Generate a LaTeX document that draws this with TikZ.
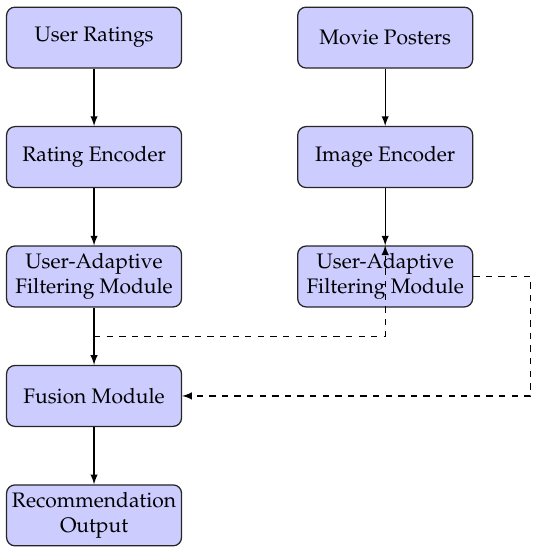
\documentclass[tikz,border=0pt]{standalone}
\usepackage[T1]{fontenc}
\usepackage{mathpazo}
\usetikzlibrary{arrows}

\begin{document}
\begin{tikzpicture}[auto,>=latex,semithick]

%
% Styles
%
\tikzstyle{module} = [rectangle,rounded corners,draw=black!85,fill=blue!20,minimum width=2.93cm,minimum height=1.02cm,align=center,inner sep=2pt]
\tikzstyle{link} = [->,draw=black]
\tikzstyle{feedback} = [->,draw=black,dashed]

\useasboundingbox (0,0) rectangle (8.98,-9.21);

\node[module] (ratings)  at (1.575,-0.63) {User Ratings};
\node[module] (posters)  at (6.45,-0.63)  {Movie Posters};
\node[module] (renc)     at (1.575,-2.63) {Rating Encoder};
\node[module] (ienc)     at (6.45,-2.63)  {Image Encoder};
\node[module] (rfilter)  at (1.575,-4.63) {User-Adaptive\\Filtering Module};
\node[module] (ifilter)  at (6.45,-4.63)  {User-Adaptive\\Filtering Module};
\node[module] (fusion)   at (1.575,-6.63) {Fusion Module};
\node[module] (output)   at (1.575,-8.63) {Recommendation\\Output};

\coordinate (split) at (1.575,-5.63);
\coordinate (corner) at (8.88,-4.63);

\path[link] (ratings) edge (renc);
\path[link] (renc) edge (rfilter);
\path[link] (posters) edge (ienc);
\path[link] (ienc) edge (ifilter);
\path[link] (rfilter) edge (fusion);
\path[link] (fusion) edge (output);

\draw[feedback] (split) -| (ifilter.north);
\draw[feedback] (ifilter.east) -- (corner) |- (fusion.east);

\end{tikzpicture}
\end{document}
